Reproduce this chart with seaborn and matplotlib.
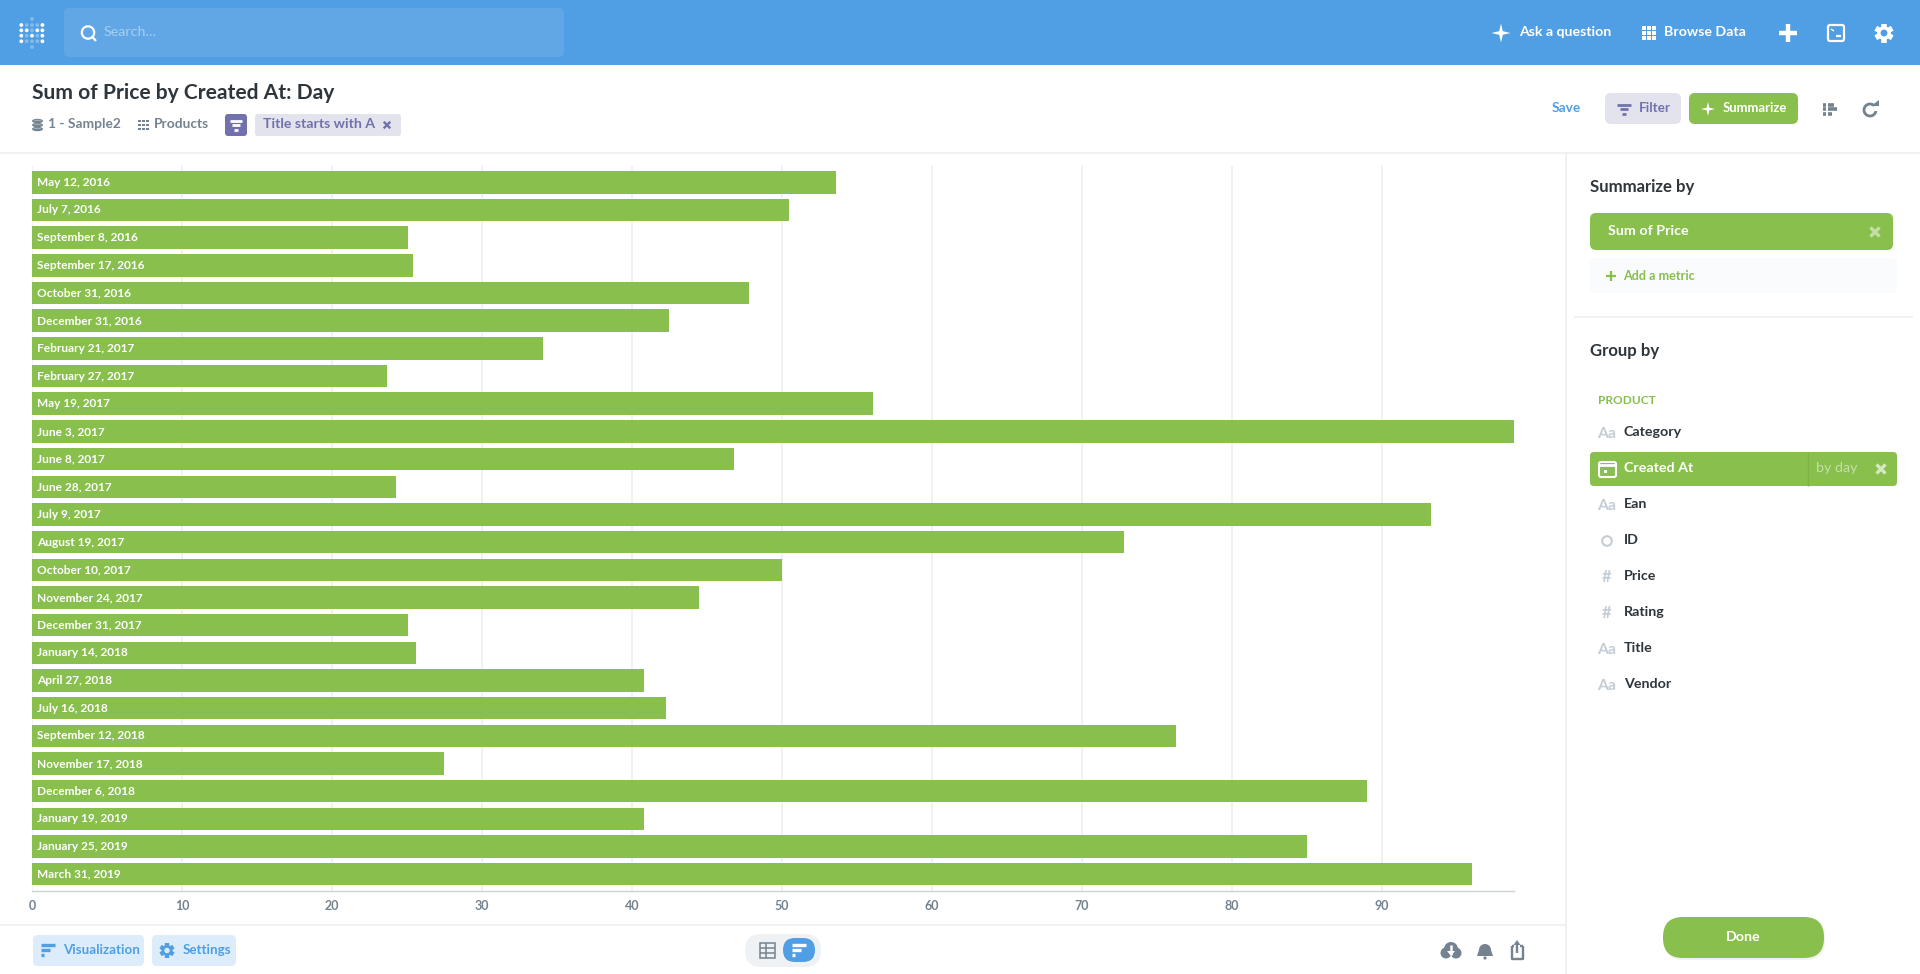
import numpy as np
import pandas as pd
import matplotlib
matplotlib.use("Agg")
import matplotlib.pyplot as plt
from matplotlib.patches import FancyBboxPatch, Rectangle, Circle, Polygon, Wedge, Ellipse
import seaborn as sns

# ---- data ----
dates = ["May 12, 2016", "July 7, 2016", "September 8, 2016", "September 17, 2016",
         "October 31, 2016", "December 31, 2016", "February 21, 2017", "February 27, 2017",
         "May 19, 2017", "June 3, 2017", "June 8, 2017", "June 28, 2017", "July 9, 2017",
         "August 19, 2017", "October 10, 2017", "November 24, 2017", "December 31, 2017",
         "January 14, 2018", "April 27, 2018", "July 16, 2018", "September 12, 2018",
         "November 17, 2018", "December 6, 2018", "January 19, 2019", "January 25, 2019",
         "March 31, 2019"]
sum_of_price = [53.6, 50.5, 25.1, 25.4, 47.8, 42.5, 34.1, 23.7, 56.1, 98.8, 46.8, 24.3, 93.3,
                72.8, 50.0, 44.5, 25.1, 25.6, 40.8, 42.3, 76.3, 27.5, 89.0, 40.8, 85.0, 96.0]
x_ticks = [0, 10, 20, 30, 40, 50, 60, 70, 80, 90]

group_fields = ["Category", "Created At", "Ean", "ID", "Price", "Rating", "Title", "Vendor"]
group_icons = ["Aa", "", "Aa", "o", "#", "#", "Aa", "Aa"]

# ---- colours ----
BLUE = "#509EE3"
GREEN = "#88BF4D"
DARK = "#2E353B"
GREY = "#74838F"
PURPLE = "#7172AD"
LILAC = "#E3E3EE"
LINE = "#EDEFF1"

sns.set_theme(style="white")
plt.rcParams["font.family"] = ["Lato", "DejaVu Sans"]

W, H = 1920, 974
fig = plt.figure(figsize=(W / 100, H / 100), dpi=100, facecolor="white")

# ---- chart ----
ax_l, ax_r, ax_t, ax_b = 32, 1514, 165.7, 891.3
ax = fig.add_axes([ax_l / W, 1 - ax_b / H, (ax_r - ax_l) / W, (ax_b - ax_t) / H])
df = pd.DataFrame({"date": dates, "price": sum_of_price})
ax.set_axisbelow(True)
sns.barplot(data=df, x="price", y="date", orient="h", color=GREEN, saturation=1,
            width=0.81, ax=ax, zorder=3, linewidth=0, edgecolor="none")
xmax = 98.81
ax.set_xlim(0, xmax)
ax.set_ylim(25.62, -0.6)
ax.set_xticks(x_ticks)
ax.set_xticks([0, xmax], minor=True)
ax.set_yticks([])
ax.set_xlabel("")
ax.set_ylabel("")
ax.grid(axis="x", color=LINE, lw=1.2)
ax.grid(axis="y", visible=False)
sns.despine(ax=ax, left=True, top=True, right=True, bottom=False)
ax.spines["bottom"].set_color("#CDD2D6")
ax.spines["bottom"].set_linewidth(1.0)
ax.tick_params(axis="x", which="major", length=0, pad=6.5)
ax.tick_params(axis="x", which="minor", length=4.2, width=0.8, color="#CDD2D6")
ax.xaxis.set_tick_params(which="minor", labelbottom=False)
for tick in ax.xaxis.get_major_ticks():
    tick.label1.set_fontweight("bold")
    tick.label1.set_fontsize(9)
    tick.label1.set_color(GREY)
for i, lab in enumerate(dates):
    ax.annotate(lab, xy=(0, i), xytext=(3.8, 0), textcoords="offset points",
                va="center", ha="left", color="white", fontsize=8.6,
                fontweight="bold", zorder=5)

# ---- application chrome, in pixel coordinates ----
ui = fig.add_axes([0, 0, 1, 1], facecolor="none", zorder=10)
ui.set_xlim(0, W)
ui.set_ylim(H, 0)
ui.axis("off")


def box(x0, y0, x1, y1, color, r=5, **kw):
    ui.add_patch(FancyBboxPatch((x0 + r, y0 + r), x1 - x0 - 2 * r, y1 - y0 - 2 * r,
                                boxstyle=f"round,pad={r},rounding_size={r}",
                                fc=color, ec="none", **kw))


def txt(x, y, s, color=DARK, size=10, weight="bold", ha="left", **kw):
    ui.text(x, y + 0.5, s, color=color, fontsize=size, fontweight=weight, ha=ha,
            va="center", **kw)


def line(xs, ys, color, lw=1.0, **kw):
    ui.plot(xs, ys, color=color, lw=lw, solid_capstyle=kw.pop("cap", "butt"), **kw)


def sparkle(cx, cy, r, color):
    ang = np.arange(8) * np.pi / 4
    rad = np.where(np.arange(8) % 2 == 0, r, r * 0.27)
    ui.add_patch(Polygon(np.c_[cx + rad * np.cos(ang), cy + rad * np.sin(ang)], fc=color, ec="none"))


def dots(cx, cy, n, step, size, color):
    off = (np.arange(n) - (n - 1) / 2) * step
    for yy in off:
        for xx in off:
            ui.add_patch(Rectangle((cx + xx - size / 2, cy + yy - size / 2), size, size, fc=color, ec="none"))


def funnel(cx, cy, color, w=16):
    line([cx - w / 2, cx + w / 2], [cy - 4.5, cy - 4.5], color, 2.0)
    line([cx - w / 3.2, cx + w / 3.2], [cy, cy], color, 2.0)
    line([cx - w / 7, cx + w / 7], [cy + 4.5, cy + 4.5], color, 2.0)


def bars_icon(cx, cy, color):
    line([cx - 7, cx + 7], [cy - 5, cy - 5], color, 2.4)
    line([cx - 7, cx + 2], [cy, cy], color, 2.4)
    line([cx - 7, cx - 4], [cy + 5, cy + 5], color, 2.4)


def cross(cx, cy, r, color, lw=2.0):
    line([cx - r, cx + r], [cy - r, cy + r], color, lw)
    line([cx - r, cx + r], [cy + r, cy - r], color, lw)


def gear(cx, cy, r, color, hole="white"):
    for a in np.arange(6) * np.pi / 3 + np.pi / 6:
        line([cx, cx + r * np.cos(a)], [cy, cy + r * np.sin(a)], color, r * 0.42)
    ui.add_patch(Circle((cx, cy), r * 0.72, fc=color, ec="none", zorder=3))
    ui.add_patch(Circle((cx, cy), r * 0.36, fc=hole, ec="none", zorder=4))


# top bar
ui.add_patch(Rectangle((0, 0), W, 65, fc=BLUE, ec="none"))
box(64, 8, 564, 57, "#61A7E6", r=5)
ui.add_patch(Circle((88, 32.5), 6.2, fc="none", ec="white", lw=1.6))
line([92.5, 96], [37, 41], "white", 1.6)
txt(104, 32, "Search…", color="#A6CEF1", size=10.3, weight="normal")

logo_x = [21.3, 26.7, 32, 37.3, 42.4]
logo_y = [25, 30.3, 35.7, 41.3]
logo_on = {(0, 0), (0, 4), (1, 0), (1, 1), (1, 3), (1, 4), (2, 0), (2, 2), (2, 4), (3, 0), (3, 4)}
for r_i, ry in enumerate(logo_y):
    for c_i, lx in enumerate(logo_x):
        on = (r_i, c_i) in logo_on
        ui.add_patch(Circle((lx, ry), 1.9, fc="white", ec="none", alpha=1.0 if on else 0.3))
for ry in (19, 47):
    ui.add_patch(Circle((32, ry), 1.9, fc="white", ec="none", alpha=0.3))

sparkle(1501, 33, 9.5, "white")
txt(1518.7, 32, "Ask a question", color="white", size=10.15)
dots(1649, 33, 3, 5.3, 3.8, "white")
txt(1664.3, 32, "Browse Data", color="white", size=10.15)
line([1779, 1797], [33, 33], "white", 3.2)
line([1788, 1788], [24, 42], "white", 3.2)
ui.add_patch(FancyBboxPatch((1829, 26), 14, 14, boxstyle="round,pad=1,rounding_size=2", fc="none", ec="white", lw=1.6))
line([1831, 1834], [29, 31], "white", 1.0)
line([1836, 1841], [36, 36], "white", 1.6)
gear(1884, 33, 9.5, "white", hole=BLUE)

# title row
txt(32, 92.5, "Sum of Price by Created At: Day", size=15.1)
for y0 in (121, 125, 129):
    ui.add_patch(Ellipse((37.5, y0), 11, 4.4, fc=GREY, ec="none"))
    ui.add_patch(Ellipse((37.5, y0 - 0.6), 8, 1.2, fc="white", ec="none", alpha=0.35))
txt(48.5, 123.5, "1 - Sample2", color=GREY, size=9.9)
dots(143.5, 125, 3, 4, 2.8, GREY)
txt(154, 123.5, "Products", color=GREY, size=9.9)
box(225, 114, 247, 136, PURPLE, r=3)
funnel(236, 125, "white", w=12)
box(255, 114, 401, 136, LILAC, r=3)
txt(263, 123.5, "Title starts with A", color=PURPLE, size=10.15)
cross(387, 125, 3.3, PURPLE, 1.7)

txt(1552, 107.5, "Save", color=BLUE, size=9.9)
box(1605, 93, 1681, 124, LILAC, r=6)
funnel(1624, 109, PURPLE, w=14)
txt(1638.5, 107.5, "Filter", color=PURPLE, size=9.7)
box(1689, 93, 1798, 124, GREEN, r=6)
sparkle(1708, 109, 7, "white")
txt(1723, 107.5, "Summarize", color="white", size=9.45)

# list icon and refresh icon
for yy, bar_end in zip((104.7, 109.2, 113.7), (1834, 1837, 1832)):
    line([1823, 1826], [yy, yy], GREY, 2.6)
    line([1828, bar_end], [yy, yy], GREY, 2.6)
ui.add_patch(Wedge((1870, 110), 7.4, 10, 315, width=2.8, fc=GREY, ec="none"))
ui.add_patch(Polygon([(1871, 106), (1878.5, 106), (1878.5, 100)], fc=GREY, ec="none"))

# layout rules
line([0, W], [152.5, 152.5], LINE, 1.2)
line([1565.5, 1565.5], [152.5, H], LINE, 1.2)
line([0, 1565], [924.5, 924.5], LINE, 1.2)
line([1574, 1913], [317, 317], LINE, 1.2)

# right panel: summarize
txt(1590, 186.5, "Summarize by", size=12.1)
box(1590, 213, 1893, 250, GREEN, r=6)
txt(1608, 230.5, "Sum of Price", color="white", size=10.3)
cross(1875, 232, 4.5, "#C5DFA6", 2.4)
box(1590, 258, 1897, 293, "#F9FBFC", r=4)
line([1606, 1616], [276, 276], GREEN, 1.6)
line([1611, 1611], [271, 281], GREEN, 1.6)
txt(1623.5, 275, "Add a metric", color=GREEN, size=9.05)

# right panel: group by
txt(1590, 350.5, "Group by", size=12.1)
ui.text(1598, 401, "PRODUCT", color=GREEN, fontsize=8.6, fontweight="bold", ha="left", va="center")
row_y = [432, 468, 504, 540, 576, 612, 648, 684]
for name, icon, y in zip(group_fields, group_icons, row_y):
    if name == "Created At":
        box(1590, 452, 1897, 486, GREEN, r=4)
        line([1808, 1808], [452, 486], "#7FB345", 1.0)
        ui.add_patch(FancyBboxPatch((1600, 463), 15, 13, boxstyle="round,pad=1,rounding_size=2", fc="none", ec="white", lw=1.5))
        line([1599, 1616], [464.5, 464.5], "white", 2)
        ui.add_patch(Rectangle((1603.5, 470), 3, 3, fc="white", ec="none"))
        txt(1624, y, name, color="white", size=10.3)
        txt(1816, y, "by day", color="#C5DFA6", size=10.3, weight="normal")
        cross(1881, y + 1, 4.5, "#D5E8C0", 2.4)
        continue
    txt(1624, y, name, color=DARK, size=10.3)
    if icon == "o":
        ui.add_patch(Circle((1607, y + 1), 4.8, fc="none", ec="#C5CDD4", lw=1.5))
    elif icon:
        txt(1607, y + 1, icon, color="#C5CDD4", size=11.3 if icon == "Aa" else 12, ha="center")

# footer
box(33, 935, 144, 966, "#DDECFA", r=5)
bars_icon(48, 950, BLUE)
txt(63, 949.5, "Visualization", color=BLUE, size=9.6)
box(152, 935, 236, 966, "#DDECFA", r=5)
gear(167, 950.5, 7.5, BLUE, hole="#DDECFA")
txt(182.7, 949.5, "Settings", color=BLUE, size=9.6)
box(745, 934, 821, 967, "#EEF2F5", r=16)
ui.add_patch(Rectangle((760, 943), 15, 15, fc="none", ec=GREY, lw=1.1))
line([760, 775], [948, 948], GREY, 1.1)
line([760, 775], [953, 953], GREY, 1.1)
line([765.5, 765.5], [943, 958], GREY, 1.1)
box(783, 938, 815, 962, BLUE, r=12)
bars_icon(799, 950, "white")

# footer tools
ui.add_patch(Circle((1446, 953), 5.5, fc=GREY, ec="none"))
ui.add_patch(Circle((1456, 953), 5.5, fc=GREY, ec="none"))
ui.add_patch(Circle((1451, 949), 7, fc=GREY, ec="none"))
line([1451, 1451], [945, 955], "white", 1.8)
ui.add_patch(Polygon([(1447, 951), (1455, 951), (1451, 956)], fc="white", ec="none", zorder=3))
ui.add_patch(Wedge((1485, 950), 6, 180, 360, fc=GREY, ec="none"))
ui.add_patch(Polygon([(1479, 950), (1491, 950), (1493, 956), (1477, 956)], fc=GREY, ec="none"))
ui.add_patch(Circle((1485, 958), 1.6, fc=GREY, ec="none"))
line([1511.5, 1511.5, 1522.5, 1522.5], [946, 958.5, 958.5, 946], GREY, 1.7)
line([1511.5, 1514], [946, 946], GREY, 1.7)
line([1520, 1522.5], [946, 946], GREY, 1.7)
line([1517, 1517], [942, 953], GREY, 1.7)
ui.add_patch(Polygon([(1513.5, 945), (1520.5, 945), (1517, 940)], fc=GREY, ec="none", zorder=3))

# done button
box(1664, 919, 1825, 960, "#EEF0F2", r=20)
box(1663, 917, 1824, 958, GREEN, r=20)
txt(1743.5, 936.5, "Done", color="white", size=10.3, ha="center")

fig.savefig("out.png", dpi=100)
